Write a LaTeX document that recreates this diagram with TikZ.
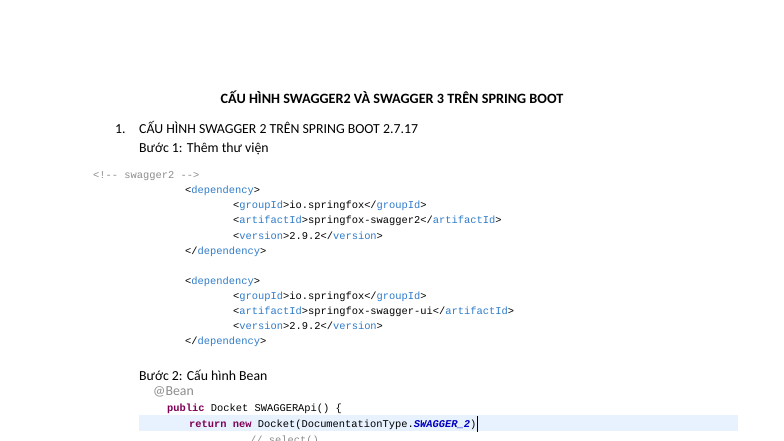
\documentclass[tikz,border=0pt]{standalone}
\usepackage{fontspec}
\setmainfont{Carlito}
\newfontfamily\codef{Liberation Mono}
\definecolor{tagc}{HTML}{2E7BC9}
\definecolor{kw}{HTML}{7F0055}
\definecolor{cst}{HTML}{0000C0}
\definecolor{cmt}{HTML}{8C8C8C}
\definecolor{hl}{HTML}{E8F2FE}
\newcommand{\tg}[1]{\textcolor{tagc}{#1}}
\begin{document}
\begin{tikzpicture}[x=1pt,y=-1pt,
  txt/.style={anchor=base west,inner sep=0pt,font=\fontsize{13.8}{15}\selectfont},
  code/.style={anchor=base west,inner sep=0pt,font=\codef\fontsize{10.4}{12}\selectfont}]
\useasboundingbox (0,0) rectangle (784,441);
\fill[hl] (139,415) rectangle (738,431);
\node[txt,anchor=base,font=\bfseries\fontsize{14.2}{15}\selectfont] (t) at (392,104) {CẤU HÌNH SWAGGER2 VÀ SWAGGER 3 TRÊN SPRING BOOT};
\node[txt] (n1) at (115,134) {1.};
\node[txt] (h1) at (139,134) {CẤU HÌNH SWAGGER 2 TRÊN SPRING BOOT 2.7.17};
\node[txt] (b1) at (139,152) {Bước 1: Thêm thư viện};
\node[code,text=cmt] (c0) at (93,178) {<!-- swagger2 -->};
\node[code] (d1) at (185,193) {<\tg{dependency}>};
\node[code] (g1) at (233,208) {<\tg{groupId}>io.springfox</\tg{groupId}>};
\node[code] (a1) at (233,223) {<\tg{artifactId}>springfox-swagger2</\tg{artifactId}>};
\node[code] (v1) at (233,239) {<\tg{version}>2.9.2</\tg{version}>};
\node[code] (e1) at (185,254) {</\tg{dependency}>};
\node[code] (d2) at (185,284) {<\tg{dependency}>};
\node[code] (g2) at (233,299) {<\tg{groupId}>io.springfox</\tg{groupId}>};
\node[code] (a2) at (233,314) {<\tg{artifactId}>springfox-swagger-ui</\tg{artifactId}>};
\node[code] (v2) at (233,329) {<\tg{version}>2.9.2</\tg{version}>};
\node[code] (e2) at (185,344) {</\tg{dependency}>};
\node[txt] (b2) at (139,380) {Bước 2: Cấu hình Bean};
\node[txt,text=cmt] (bean) at (153,395) {@Bean};
\node[code] (p) at (167,411) {\textcolor{kw}{\bfseries public} Docket SWAGGERApi() \{};
\node[code] (r) at (189,427) {\textcolor{kw}{\bfseries return new} Docket(DocumentationType.\textcolor{cst}{\bfseries\itshape SWAGGER\_2})};
\node[code,text=cmt] (s) at (250,443) {// select()};
\draw[black,line width=0.8pt] (r.east) ++(1,-8) -- ++(0,16);
\end{tikzpicture}
\end{document}
